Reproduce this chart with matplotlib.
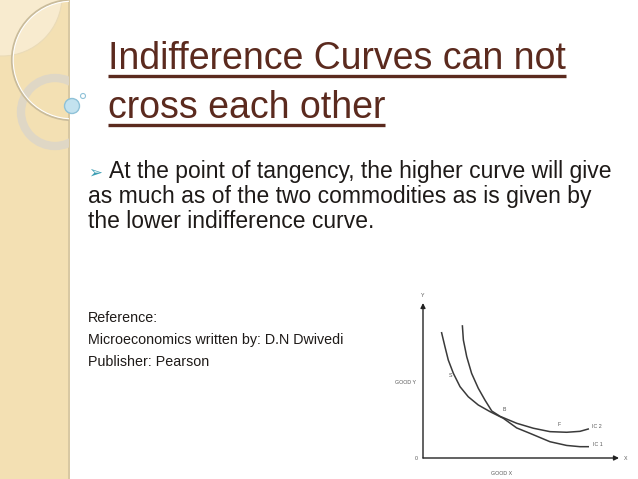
import matplotlib
matplotlib.use("Agg")
import matplotlib.pyplot as plt
from matplotlib.patches import Rectangle, Circle

# ---- slide text ----
title_lines = ["Indifference Curves can not", "cross each other"]
body_lines = ["At the point of tangency, the higher curve will give",
              "as much as of the two commodities as is given by",
              "the lower indifference curve."]
ref_lines = ["Reference:", "Microeconomics written by: D.N Dwivedi", "Publisher: Pearson"]

# ---- diagram data (x = good X, y = good Y) ----
ic1_x = [0.95, 1.12, 1.29, 1.55, 1.89, 2.31, 2.82, 3.42, 4.10, 4.78, 5.46, 6.48, 7.33, 8.01, 8.43]
ic1_y = [8.08, 7.18, 6.32, 5.46, 4.60, 3.95, 3.42, 2.99, 2.56, 1.94, 1.59, 1.05, 0.81, 0.73, 0.73]
ic2_x = [2.01, 2.06, 2.23, 2.48, 2.82, 3.16, 3.51, 3.93, 4.78, 5.63, 6.48, 7.33, 8.01, 8.43]
ic2_y = [8.52, 7.61, 6.54, 5.46, 4.50, 3.74, 3.03, 2.69, 2.24, 1.92, 1.70, 1.66, 1.72, 1.87]
point_labels = ["S", "B", "F", "IC 2", "IC 1"]
point_x = [1.38, 4.13, 6.94, 8.88, 8.93]
point_y = [5.35, 3.16, 2.13, 2.00, 0.84]

W, H = 638, 479
fig = plt.figure(figsize=(W / 100, H / 100), dpi=100)

# background axes in pixel units
bg = fig.add_axes([0, 0, 1, 1])
bg.set_xlim(0, W)
bg.set_ylim(H, 0)
bg.axis("off")

band = Rectangle((0, 0), 69, H, facecolor="#f3e0b3", edgecolor="none", zorder=0)
bg.add_patch(band)
bg.add_patch(Rectangle((68, 0), 2, H, facecolor="#d8c8a2", edgecolor="none", zorder=1))

light = Circle((2, -4), 60, facecolor="#f8ebcf", edgecolor="#eadbb8", lw=0.8, zorder=1)
bg.add_patch(light)
light.set_clip_path(band)

ring = Circle((55, 112), 34, facecolor="none", edgecolor="#ddd6c8", lw=6, alpha=0.9, zorder=2)
bg.add_patch(ring)
ring.set_clip_path(band)

big = Circle((72, 60), 60, facecolor="none", edgecolor="#c9bb9a", lw=1.6, zorder=3)
bg.add_patch(big)
big.set_clip_path(band)
big_hi = Circle((72, 60), 58.8, facecolor="none", edgecolor="white", lw=0.8, zorder=3)
bg.add_patch(big_hi)
big_hi.set_clip_path(band)

bg.add_patch(Circle((72, 106), 7.5, facecolor="#c3e2ef", edgecolor="#8fc2d8", lw=1, zorder=4))
bg.add_patch(Circle((83, 96), 2.5, facecolor="white", edgecolor="#8fc2d8", lw=0.8, zorder=4))

# title with underline
title_color = "#5b2a1e"
fig.canvas.draw()
renderer = fig.canvas.get_renderer()
for i, line in enumerate(title_lines):
    yb = 69 + i * 49
    t = bg.text(108, yb, line, fontsize=27, family="Liberation Sans",
                color=title_color, va="baseline", ha="left", zorder=5)
    bb = t.get_window_extent(renderer=renderer)
    x0, x1 = bb.x0, bb.x1
    bg.plot([x0, x1], [yb + 7, yb + 7], color=title_color, lw=2.4,
            solid_capstyle="butt", zorder=5)

# body text
bg.text(88, 178, "\u27a2", fontsize=12, family="DejaVu Sans", color="#3b9db3",
        va="baseline", ha="left", zorder=5)
for i, line in enumerate(body_lines):
    x = 109 if i == 0 else 88
    bg.text(x, 178 + i * 25, line, fontsize=16.5, family="Liberation Sans",
            color="#1e1a18", va="baseline", ha="left", zorder=5)

for i, line in enumerate(ref_lines):
    bg.text(88, 322 + i * 22, line, fontsize=10.3, family="Liberation Sans",
            color="#1e1a18", va="baseline", ha="left", zorder=5)

# diagram axes
ax = fig.add_axes([423 / W, (H - 458) / H, 196 / W, 155 / H])
ax.set_xlim(0, 10)
ax.set_ylim(0, 10)
ax.axis("off")
ax.patch.set_alpha(0)

arrow = dict(arrowstyle="-|>", color="#222222", lw=1.0, mutation_scale=7, shrinkA=0, shrinkB=0)
ax.annotate("", xy=(10, 0), xytext=(0, 0), arrowprops=arrow, annotation_clip=False)
ax.annotate("", xy=(0, 10), xytext=(0, 0), arrowprops=arrow, annotation_clip=False)

ax.plot(ic1_x, ic1_y, color="#3a3a3a", lw=1.1, clip_on=False)
ax.plot(ic2_x, ic2_y, color="#3a3a3a", lw=1.1, clip_on=False)

small = dict(fontsize=3.8, family="Liberation Sans", color="#555555", clip_on=False)
for lab, x, y in zip(point_labels, point_x, point_y):
    ax.text(x, y, lab, ha="center", va="center", **small)
ax.text(-0.25, 0, "0", ha="right", va="center", **small)
ax.text(0, 10.5, "Y", ha="center", va="center", **small)
ax.text(10.25, 0, "X", ha="left", va="center", **small)
ax.text(-0.9, 4.86, "GOOD Y", ha="center", va="center", **small)
ax.text(4.02, -0.97, "GOOD X", ha="center", va="center", **small)

fig.savefig("out.png", dpi=100)
